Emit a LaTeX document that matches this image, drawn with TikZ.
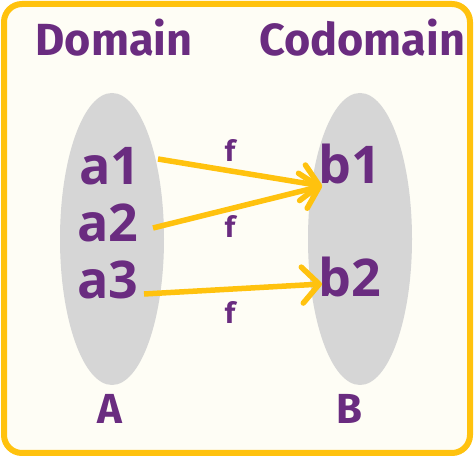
\documentclass[tikz,border=0pt]{standalone}
\usepackage{fontspec}
\setmainfont{Fira Sans}
\newfontfamily\elemfont{Open Sans}
\usetikzlibrary{arrows.meta}
\definecolor{frameY}{HTML}{FFC20E}
\definecolor{cream}{HTML}{FEFDF5}
\definecolor{setgray}{HTML}{D6D6D6}
\definecolor{purp}{HTML}{6A2C80}
\begin{document}
\begin{tikzpicture}[x=1pt,y=1pt,
  lbl/.style={text=purp,font=\bfseries\fontsize{45}{48}\selectfont,inner sep=0pt},
  elem/.style={text=purp,font=\elemfont\bfseries\fontsize{52}{56}\selectfont,inner sep=0pt},
  setname/.style={text=purp,font=\bfseries\fontsize{42}{44}\selectfont,inner sep=0pt},
  flbl/.style={text=purp,font=\bfseries\fontsize{29}{30}\selectfont,inner sep=0pt},
  maparrow/.style={draw=frameY,line width=5.5pt,-{Straight Barb[length=17pt,width=36pt,line width=5.5pt,round]}}]
\useasboundingbox (0,0) rectangle (474,457);
\fill[white] (0,0) rectangle (474,457);
\draw[frameY,line width=6pt,fill=cream,rounded corners=18pt] (4,4) rectangle (470,453);
\fill[setgray] (112,218) ellipse [x radius=52,y radius=146];
\fill[setgray] (360,218) ellipse [x radius=52,y radius=146];
\node[lbl] (dom) at (114,419.5) {Domain};
\node[lbl] (cod) at (362,419.5) {Codomain};
\node[elem] (a1) at (110,291) {a1};
\node[elem] (a2) at (108,234.5) {a2};
\node[elem] (a3) at (108,177) {a3};
\node[elem] (b1) at (350,293) {b1};
\node[elem] (b2) at (350,179.5) {b2};
\node[setname] (A) at (110,48) {A};
\node[setname] (B) at (349,48) {B};
\coordinate (s1) at (158,298);
\coordinate (s2) at (153,229);
\coordinate (s3) at (144,163);
\coordinate (t1) at (322,271);
\coordinate (t2) at (322,173);
\draw[maparrow] (s1) -- (t1);
\draw[maparrow] (s2) -- (t1);
\draw[maparrow] (s3) -- (t2);
\node[flbl] (f1) at (230,306) {f};
\node[flbl] (f2) at (230,230) {f};
\node[flbl] (f3) at (230,145) {f};
\end{tikzpicture}
\end{document}
